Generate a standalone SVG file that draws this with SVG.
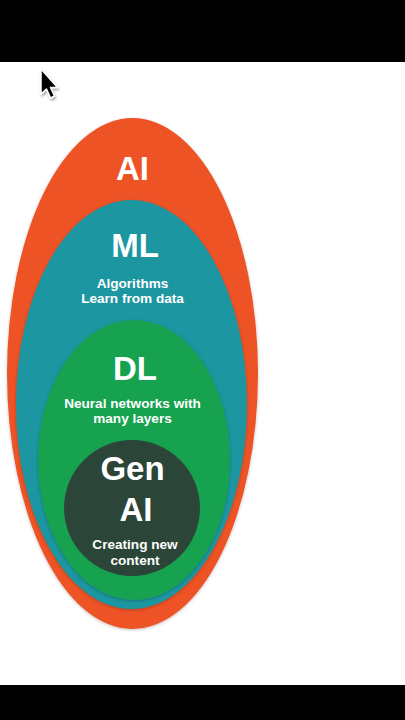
<svg xmlns="http://www.w3.org/2000/svg" width="405" height="720" viewBox="0 0 405 720">
  <style>
    .big { font-family: "Liberation Sans", Arial, Helvetica, sans-serif; font-weight: bold; font-size: 33px; fill: #ffffff; text-anchor: middle; }
    .small { font-family: "Liberation Sans", Arial, Helvetica, sans-serif; font-weight: bold; font-size: 13.6px; fill: #ffffff; text-anchor: middle; }
    .bar { fill: #000000; }
  </style>
  <defs>
    <filter id="shadow" x="-10%" y="-10%" width="120%" height="120%">
      <feDropShadow dx="0" dy="1" stdDeviation="1.5" flood-color="#000000" flood-opacity="0.25"/>
    </filter>
    <filter id="curShadow" x="-30%" y="-30%" width="160%" height="160%">
      <feDropShadow dx="1" dy="2" stdDeviation="1.2" flood-color="#000000" flood-opacity="0.35"/>
    </filter>
  </defs>

  <rect x="0" y="0" width="405" height="720" fill="#ffffff"/>
  <rect class="bar" x="0" y="0" width="405" height="62"/>
  <rect class="bar" x="0" y="685" width="405" height="35"/>

  <g id="ai">
    <ellipse cx="132.5" cy="373.5" rx="125.5" ry="255.5" fill="#EE5227" filter="url(#shadow)"/>
    <text class="big" x="132.5" y="180">AI</text>
  </g>

  <g id="ml">
    <ellipse cx="131.5" cy="404.5" rx="115.5" ry="204.5" fill="#1A96A0" filter="url(#shadow)"/>
    <text class="big" x="135" y="257">ML</text>
    <text class="small" x="132.5" y="288">Algorithms</text>
    <text class="small" x="132.5" y="303">Learn from data</text>
  </g>

  <g id="dl">
    <ellipse cx="134" cy="460" rx="96" ry="140" fill="#17A24F" filter="url(#shadow)"/>
    <text class="big" x="135" y="380">DL</text>
    <text class="small" x="132.5" y="408">Neural networks with</text>
    <text class="small" x="132.5" y="423">many layers</text>
  </g>

  <g id="genai">
    <circle cx="132" cy="508" r="68" fill="#2B4638"/>
    <text class="big" x="132.5" y="480">Gen</text>
    <text class="big" x="136" y="521">AI</text>
    <text class="small" x="135" y="549">Creating new</text>
    <text class="small" x="135" y="565">content</text>
  </g>

  <g id="connectors"/>

  <g id="cursor" filter="url(#curShadow)">
    <path d="M41,69 L41,94 L46.5,89 L50.5,98 L54.5,96 L50.5,87.5 L57.5,87.5 Z" fill="#000000" stroke="#ffffff" stroke-width="1.5" stroke-linejoin="round"/>
  </g>
</svg>
